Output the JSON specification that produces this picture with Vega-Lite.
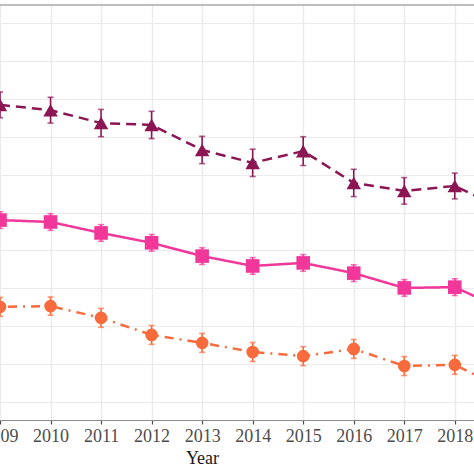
{
  "$schema": "https://vega.github.io/schema/vega-lite/v6.json",
  "width": 474,
  "height": 415,
  "autosize": {"type": "none"},
  "padding": {"left": 0, "top": 5, "right": 0, "bottom": 54},
  "background": "white",
  "config": {
    "view": {"stroke": null},
    "font": "Liberation Serif"
  },
  "data": {
    "values": [
      {"year": 2009, "group": "Group 1", "value": 7.84, "lo": 7.50, "hi": 8.18},
      {"year": 2010, "group": "Group 1", "value": 7.70, "lo": 7.36, "hi": 8.04},
      {"year": 2011, "group": "Group 1", "value": 7.36, "lo": 7.00, "hi": 7.72},
      {"year": 2012, "group": "Group 1", "value": 7.31, "lo": 6.95, "hi": 7.67},
      {"year": 2013, "group": "Group 1", "value": 6.65, "lo": 6.29, "hi": 7.01},
      {"year": 2014, "group": "Group 1", "value": 6.31, "lo": 5.95, "hi": 6.67},
      {"year": 2015, "group": "Group 1", "value": 6.62, "lo": 6.24, "hi": 7.00},
      {"year": 2016, "group": "Group 1", "value": 5.78, "lo": 5.42, "hi": 6.14},
      {"year": 2017, "group": "Group 1", "value": 5.57, "lo": 5.22, "hi": 5.92},
      {"year": 2018, "group": "Group 1", "value": 5.70, "lo": 5.36, "hi": 6.04},
      {"year": 2019, "group": "Group 1", "value": 5.07, "lo": 4.72, "hi": 5.42},
      {"year": 2009, "group": "Group 2", "value": 4.80, "lo": 4.58, "hi": 5.02},
      {"year": 2010, "group": "Group 2", "value": 4.75, "lo": 4.53, "hi": 4.97},
      {"year": 2011, "group": "Group 2", "value": 4.46, "lo": 4.24, "hi": 4.68},
      {"year": 2012, "group": "Group 2", "value": 4.20, "lo": 3.98, "hi": 4.42},
      {"year": 2013, "group": "Group 2", "value": 3.85, "lo": 3.63, "hi": 4.07},
      {"year": 2014, "group": "Group 2", "value": 3.59, "lo": 3.37, "hi": 3.81},
      {"year": 2015, "group": "Group 2", "value": 3.67, "lo": 3.45, "hi": 3.89},
      {"year": 2016, "group": "Group 2", "value": 3.40, "lo": 3.18, "hi": 3.62},
      {"year": 2017, "group": "Group 2", "value": 3.01, "lo": 2.79, "hi": 3.23},
      {"year": 2018, "group": "Group 2", "value": 3.03, "lo": 2.81, "hi": 3.25},
      {"year": 2019, "group": "Group 2", "value": 2.42, "lo": 2.20, "hi": 2.64},
      {"year": 2009, "group": "Group 3", "value": 2.51, "lo": 2.26, "hi": 2.76},
      {"year": 2010, "group": "Group 3", "value": 2.53, "lo": 2.29, "hi": 2.77},
      {"year": 2011, "group": "Group 3", "value": 2.22, "lo": 1.97, "hi": 2.47},
      {"year": 2012, "group": "Group 3", "value": 1.77, "lo": 1.52, "hi": 2.02},
      {"year": 2013, "group": "Group 3", "value": 1.56, "lo": 1.31, "hi": 1.81},
      {"year": 2014, "group": "Group 3", "value": 1.32, "lo": 1.07, "hi": 1.57},
      {"year": 2015, "group": "Group 3", "value": 1.21, "lo": 0.96, "hi": 1.46},
      {"year": 2016, "group": "Group 3", "value": 1.40, "lo": 1.15, "hi": 1.65},
      {"year": 2017, "group": "Group 3", "value": 0.95, "lo": 0.70, "hi": 1.20},
      {"year": 2018, "group": "Group 3", "value": 0.98, "lo": 0.73, "hi": 1.23},
      {"year": 2019, "group": "Group 3", "value": 0.32, "lo": 0.07, "hi": 0.57}
    ]
  },
  "layer": [
    {
      "mark": {"type": "errorbar", "clip": true, "thickness": 1.6, "ticks": {"size": 6, "thickness": 1.6}},
      "encoding": {
        "x": {
          "field": "year",
          "type": "quantitative",
          "scale": {"domain": [2009, 2018.38], "nice": false, "zero": false},
          "axis": {
            "title": "Year",
            "titleFont": "Liberation Serif",
            "titleFontSize": 18,
            "titleFontWeight": "normal",
            "titleColor": "#1a1a1a",
            "titleX": 202,
            "titlePadding": 4,
            "values": [2009, 2009.5, 2010, 2010.5, 2011, 2011.5, 2012, 2012.5, 2013, 2013.5, 2014, 2014.5, 2015, 2015.5, 2016, 2016.5, 2017, 2017.5, 2018, 2018.5],
            "labelExpr": "datum.value % 1 == 0 ? format(datum.value, 'd') : ''",
            "labelFont": "Liberation Serif",
            "labelFontSize": 18,
            "labelColor": "#4d4d4d",
            "labelPadding": 3,
            "labelOverlap": false,
            "labelBound": false,
            "labelFlush": false,
            "domainColor": "#8c8c8c",
            "domainWidth": 1.2,
            "tickColor": "#4d4d4d",
            "tickSize": 4,
            "tickWidth": 1.2,
            "tickOpacity": {"condition": {"test": "datum.value % 1 != 0", "value": 0}, "value": 1},
            "grid": true,
            "gridColor": "#ebebeb",
            "gridWidth": {"condition": {"test": "datum.value % 1 != 0", "value": 0.8}, "value": 1.4}
          }
        },
        "y": {
          "field": "lo",
          "type": "quantitative",
          "scale": {"domain": [-0.475, 10.475], "nice": false, "zero": false},
          "axis": {
            "title": null,
            "labels": false,
            "ticks": false,
            "domain": false,
            "values": [0, 1, 2, 3, 4, 5, 6, 7, 8, 9, 10],
            "grid": true,
            "gridColor": "#ebebeb",
            "gridWidth": 1.2
          }
        },
        "y2": {"field": "hi"},
        "color": {
          "field": "group",
          "type": "nominal",
          "scale": {"domain": ["Group 1", "Group 2", "Group 3"], "range": ["#8c1654", "#f2379a", "#f96a3d"]},
          "legend": null
        }
      }
    },
    {
      "mark": {"type": "line", "clip": true, "strokeWidth": 2.5},
      "encoding": {
        "x": {"field": "year", "type": "quantitative"},
        "y": {"field": "value", "type": "quantitative"},
        "color": {"field": "group", "type": "nominal", "legend": null},
        "strokeDash": {
          "field": "group",
          "type": "nominal",
          "scale": {"domain": ["Group 1", "Group 2", "Group 3"], "range": [[10, 6], [1, 0], [2, 6, 9, 6]]},
          "legend": null
        }
      }
    },
    {
      "mark": {"type": "point", "clip": true, "filled": true, "opacity": 1},
      "encoding": {
        "x": {"field": "year", "type": "quantitative"},
        "y": {"field": "value", "type": "quantitative"},
        "color": {"field": "group", "type": "nominal", "legend": null},
        "shape": {
          "field": "group",
          "type": "nominal",
          "scale": {"domain": ["Group 1", "Group 2", "Group 3"], "range": ["triangle-up", "square", "circle"]},
          "legend": null
        },
        "size": {
          "field": "group",
          "type": "nominal",
          "scale": {"domain": ["Group 1", "Group 2", "Group 3"], "range": [210, 160, 160]},
          "legend": null
        }
      }
    },
    {
      "data": {"values": [{"edge": "top"}]},
      "mark": {"type": "rule", "color": "#bdbdbd", "strokeWidth": 2},
      "encoding": {"y": {"datum": 10.475, "type": "quantitative"}}
    }
  ]
}
